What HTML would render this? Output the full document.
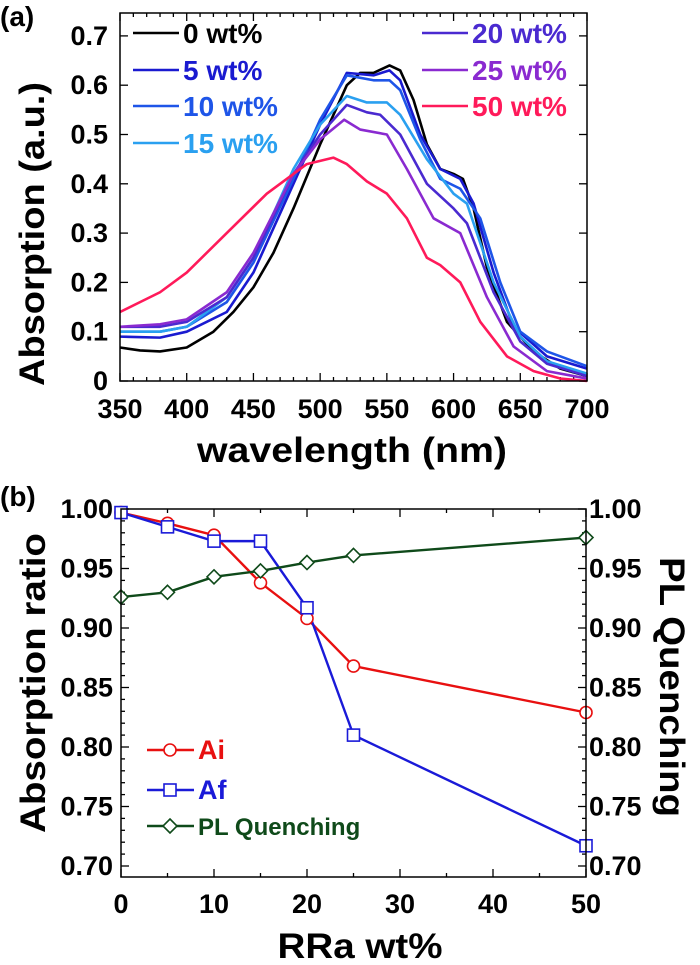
<!DOCTYPE html>
<html><head><meta charset="utf-8"><style>html,body{margin:0;padding:0;background:#fff}svg{display:block}text{font-family:"Liberation Sans",Arial,sans-serif;font-weight:bold}</style></head>
<body>
<svg id="s" width="700" height="965" viewBox="0 0 700 965" xmlns="http://www.w3.org/2000/svg">
<rect width="700" height="965" fill="#fff"/>
<g id="a"></g>
<text x="0" y="26" font-size="28">(a)</text>
<text x="0" y="506" font-size="28">(b)</text>
<text transform="translate(44,234) rotate(-90)" text-anchor="middle" font-size="35" textLength="304" lengthAdjust="spacingAndGlyphs">Absorption (a.u.)</text>
<text x="352" y="462" text-anchor="middle" font-size="35" textLength="310" lengthAdjust="spacingAndGlyphs">wavelength (nm)</text>
<text transform="translate(45,683) rotate(-90)" text-anchor="middle" font-size="35" textLength="300" lengthAdjust="spacingAndGlyphs">Absorption ratio</text>
<text transform="translate(660,687) rotate(90)" text-anchor="middle" font-size="35" textLength="260" lengthAdjust="spacingAndGlyphs">PL Quenching</text>
<text x="360" y="958" text-anchor="middle" font-size="35" textLength="165" lengthAdjust="spacingAndGlyphs">RRa wt%</text>
</svg>
<script>
var NS="http://www.w3.org/2000/svg",G=document.getElementById('a');
function el(t,a,txt){var e=document.createElementNS(NS,t);for(var k in a)e.setAttribute(k,a[k]);if(txt!=null)e.textContent=txt;G.appendChild(e);return e;}
// Panel a
var L=120,R=587,T=13,B=381;
function X(w){return L+(w-350)*(R-L)/350}function Y(a){return B-a*493}
for(var w=350;w<=700;w+=10){var mj=w%50==0;el('line',{x1:X(w),x2:X(w),y1:B,y2:B-(mj?8:4),stroke:'#000','stroke-width':1.3});el('line',{x1:X(w),x2:X(w),y1:T,y2:T+(mj?8:4),stroke:'#000','stroke-width':1.3});if(mj)el('text',{x:X(w),y:418,'text-anchor':'middle','font-size':27},w);}
for(var i=0;i<=7;i++){var y=Y(i/10);el('line',{x1:L,x2:L+8,y1:y,y2:y,stroke:'#000','stroke-width':1.3});el('line',{x1:R,x2:R-8,y1:y,y2:y,stroke:'#000','stroke-width':1.3});el('text',{x:108,y:y+9,'text-anchor':'end','font-size':27},i==0?'0':'0.'+i);}
var C=[
['#000',[[350,.068],[365,.062],[380,.06],[400,.068],[420,.1],[435,.14],[450,.19],[465,.26],[480,.35],[500,.48],[520,.6],[530,.625],[540,.625],[552,.64],[560,.63],[570,.57],[580,.48],[590,.43],[600,.42],[607,.41],[615,.35],[625,.23],[640,.12],[660,.06],[680,.025],[700,.01]]],
['#1a1ad0',[[350,.09],[380,.088],[400,.1],[430,.14],[450,.22],[480,.4],[500,.52],[520,.625],[540,.62],[552,.63],[560,.61],[575,.5],[590,.43],[605,.41],[615,.36],[630,.22],[645,.11],[670,.05],[700,.025]]],
['#1e55e8',[[350,.1],[380,.1],[400,.11],[430,.16],[450,.24],[480,.41],[500,.53],[520,.62],[540,.61],[552,.61],[560,.59],[575,.49],[590,.41],[605,.39],[620,.33],[635,.2],[650,.1],[670,.06],[700,.03]]],
['#2aa0f0',[[350,.1],[380,.1],[400,.11],[430,.17],[450,.25],[480,.43],[500,.52],[520,.578],[535,.565],[550,.565],[560,.54],[580,.45],[600,.38],[610,.36],[630,.2],[650,.09],[670,.04],[700,.015]]],
['#4a2ad0',[[350,.11],[380,.11],[400,.12],[430,.17],[450,.25],[480,.42],[500,.5],[520,.56],[535,.545],[545,.54],[560,.5],[580,.4],[600,.35],[610,.32],[630,.18],[650,.08],[670,.035],[700,.01]]],
['#8a2ad0',[[350,.11],[380,.115],[400,.125],[430,.18],[450,.26],[480,.42],[500,.49],[518,.53],[530,.51],[550,.5],[565,.43],[585,.33],[605,.3],[625,.17],[645,.07],[670,.02],[700,.005]]],
['#ff1a5a',[[350,.14],[365,.16],[380,.18],[400,.22],[430,.3],[460,.38],[490,.44],[510,.453],[520,.44],[535,.405],[550,.38],[565,.33],[580,.25],[590,.235],[605,.2],[620,.12],[640,.05],[660,.02],[680,.005],[700,0]]]];
C.forEach(function(c){el('polyline',{points:c[1].map(function(p){return X(p[0])+','+Y(p[1])}).join(' '),fill:'none',stroke:c[0],'stroke-width':2.6,'stroke-linejoin':'round'});});
el('rect',{x:L,y:T,width:R-L,height:B-T,fill:'none',stroke:'#000','stroke-width':1.5});
var lg=[[133,33,'0 wt%',0],[133,70,'5 wt%',1],[133,106,'10 wt%',2],[133,143,'15 wt%',3],[422,33,'20 wt%',4],[422,70,'25 wt%',5],[422,106,'50 wt%',6]];
lg.forEach(function(g){el('line',{x1:g[0],x2:g[0]+46,y1:g[1],y2:g[1],stroke:C[g[3]][0],'stroke-width':2.6});el('text',{x:g[0]+50,y:g[1]+10,'font-size':28,fill:C[g[3]][0]},g[2]);});
// Panel b
var L2=121,R2=586,T2=509,B2=877;
function X2(v){return L2+v*(R2-L2)/50}function Y2(v){return T2+(1-v)*(866-509)/0.3}
for(var v=0;v<=50;v+=5){var mj=v%10==0;el('line',{x1:X2(v),x2:X2(v),y1:B2,y2:B2-(mj?8:4),stroke:'#000','stroke-width':1.3});el('line',{x1:X2(v),x2:X2(v),y1:T2,y2:T2+(mj?8:4),stroke:'#000','stroke-width':1.3});if(mj)el('text',{x:X2(v),y:913,'text-anchor':'middle','font-size':27},v);}
for(var k=0;k<=31;k++){var val=1-k*0.01,y=Y2(val);if(y>B2)break;var mj=k%5==0;el('line',{x1:L2,x2:L2+(mj?8:4),y1:y,y2:y,stroke:'#000','stroke-width':1.3});el('line',{x1:R2,x2:R2-(mj?8:4),y1:y,y2:y,stroke:'#000','stroke-width':1.3});}
for(var i=0;i<=6;i++){var val=1-i*0.05,y=Y2(val),s=val.toFixed(2);el('text',{x:113,y:y+9,'text-anchor':'end','font-size':27},s);el('text',{x:589,y:y+9,'font-size':27},s);}
var xs=[0,5,10,15,20,25,50];
var S=[['#e81010',[.997,.988,.978,.938,.908,.868,.829],'c'],['#1a1ad8',[.997,.985,.973,.973,.917,.81,.717],'s'],['#0f4a1a',[.926,.930,.943,.948,.955,.961,.976],'d']];
function mk(x,y,t,c){if(t=='c')el('circle',{cx:x,cy:y,r:6,fill:'#fff',stroke:c,'stroke-width':1.6});else if(t=='s')el('rect',{x:x-6,y:y-6,width:12,height:12,fill:'#fff',stroke:c,'stroke-width':1.6});else el('polygon',{points:(x)+','+(y-7)+' '+(x+7)+','+y+' '+x+','+(y+7)+' '+(x-7)+','+y,fill:'#fff',stroke:c,'stroke-width':1.6});}
S.forEach(function(s){el('polyline',{points:xs.map(function(x,i){return X2(x)+','+Y2(s[1][i])}).join(' '),fill:'none',stroke:s[0],'stroke-width':2.4});});
S.forEach(function(s){xs.forEach(function(x,i){mk(X2(x),Y2(s[1][i]),s[2],s[0]);});});
el('rect',{x:L2,y:T2,width:R2-L2,height:B2-T2,fill:'none',stroke:'#000','stroke-width':1.5});
var lb=[[750,'Ai',0],[790,'Af',1],[826,'PL Quenching',2]];
lb.forEach(function(g){var c=S[g[2]][0];el('line',{x1:147,x2:194,y1:g[0],y2:g[0],stroke:c,'stroke-width':2.4});mk(170,g[0],S[g[2]][2],c);el('text',{x:198,y:g[0]+9,'font-size':g[2]==2?24:27,fill:c},g[1]);});
</script>
</body></html>
